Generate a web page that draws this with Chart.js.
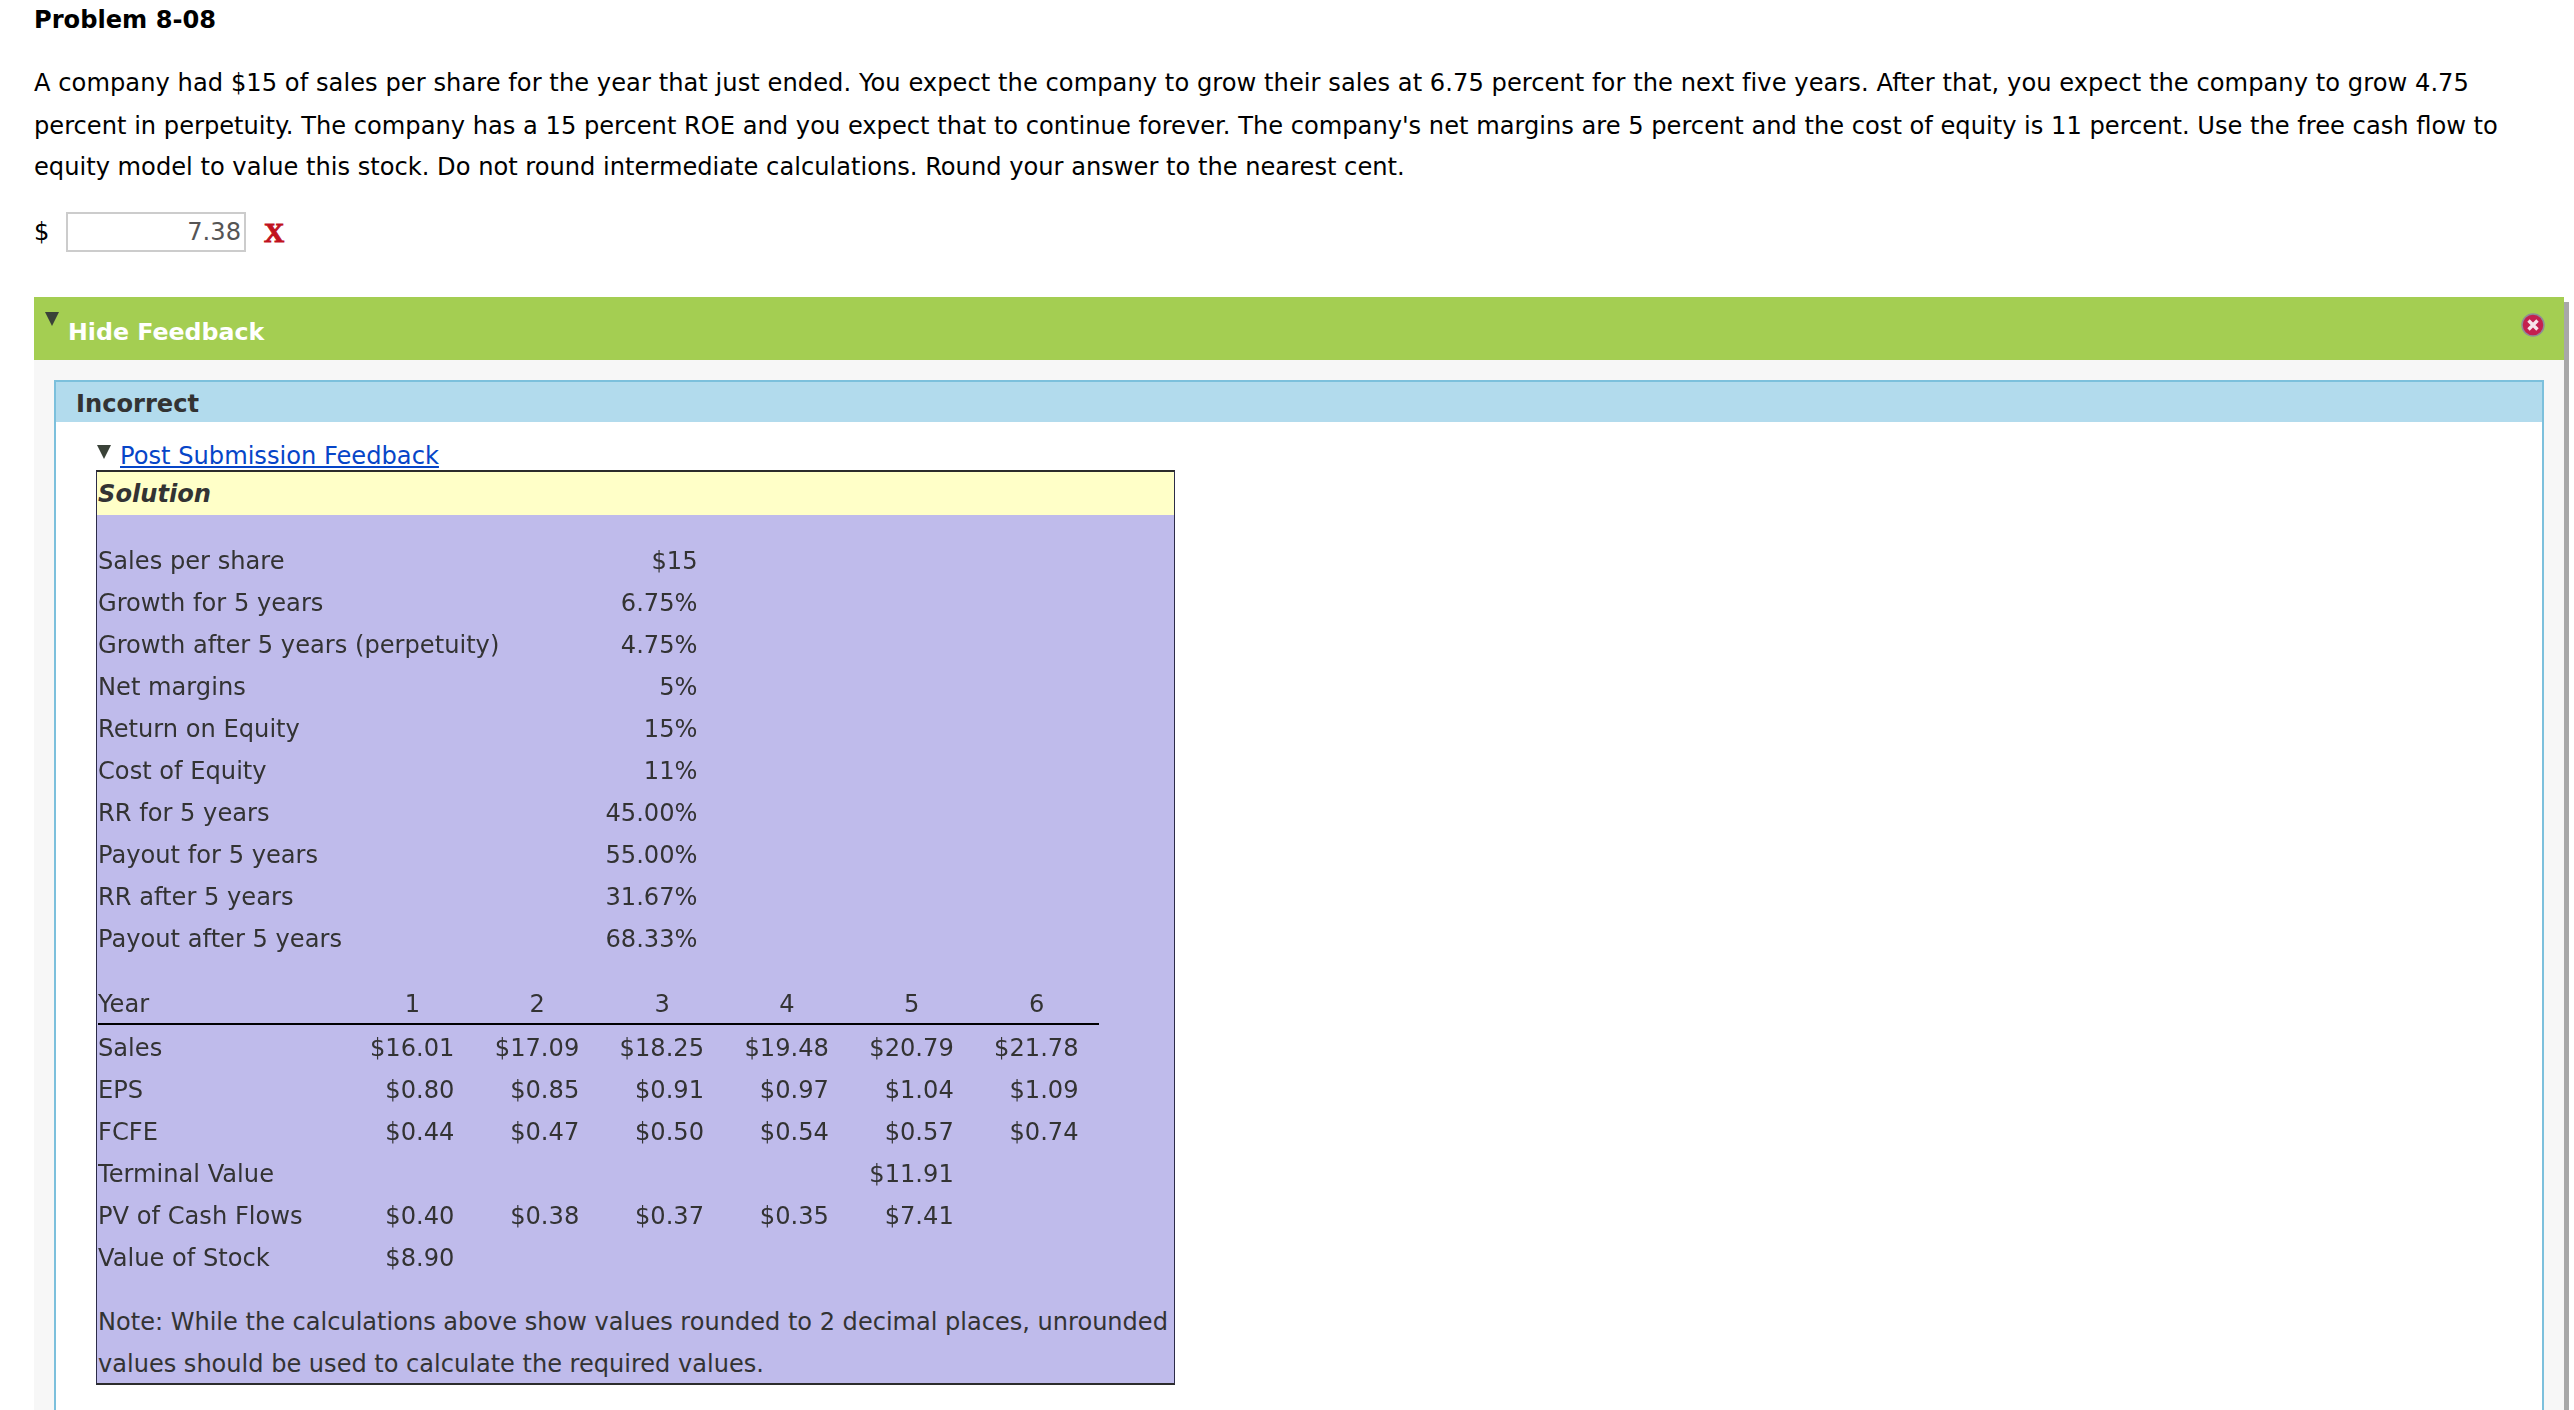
<!DOCTYPE html>
<html>
<head>
<meta charset="utf-8">
<title>Problem 8-08</title>
<script src="https://cdn.jsdelivr.net/npm/chart.js@4"></script>
<style>
  html, body { margin: 0; padding: 0; background: #fff; }
  body { width: 2574px; height: 1410px; overflow: hidden; position: relative; font-family: "DejaVu Sans", sans-serif; font-size: 24.15px; color: #000; }
  .abs { position: absolute; white-space: nowrap; line-height: 42px; }
  .box { position: absolute; box-sizing: border-box; }
  canvas { position: absolute; }
  b { font-weight: bold; }
</style>
</head>
<body>
<!-- page around the table -->
<div class="abs" style="left:34px;top:-1px"><b>Problem 8-08</b></div>
<div class="abs" style="left:34px;top:62px;letter-spacing:0.05px">A company had $15 of sales per share for the year that just ended. You expect the company to grow their sales at 6.75 percent for the next five years. After that, you expect the company to grow 4.75</div>
<div class="abs" style="left:34px;top:105px">percent in perpetuity. The company has a 15 percent ROE and you expect that to continue forever. The company's net margins are 5 percent and the cost of equity is 11 percent. Use the free cash flow to</div>
<div class="abs" style="left:34px;top:146px">equity model to value this stock. Do not round intermediate calculations. Round your answer to the nearest cent.</div>

<div class="abs" style="left:34px;top:211px">$</div>
<div class="box" style="left:66px;top:212px;width:180px;height:40px;border:2px solid #ccc"></div>
<div class="abs" style="right:2333px;top:211px;color:#555">7.38</div>
<div class="abs" style="left:264px;top:212px;color:#c1121f;font-weight:bold;font-family:'Liberation Serif',serif;font-size:28px;-webkit-text-stroke:1px #c1121f">X</div>

<div class="box" style="left:34px;top:360px;width:2530px;height:1050px;background:#f7f7f7"></div>
<div class="box" style="left:2564px;top:302px;width:5px;height:1108px;background:#a8a8a8"></div>
<div class="box" style="left:34px;top:297px;width:2530px;height:63px;background:#a4ce52"></div>
<svg class="box" style="left:43px;top:311px" width="18" height="15"><path d="M2 1H16L9 15Z" fill="#3a4238"/></svg>
<div class="abs" style="left:68px;top:311px;color:#fff;font-weight:bold;font-size:23.7px">Hide Feedback</div>
<svg class="box" style="left:2521px;top:313px" width="24" height="24"><circle cx="12" cy="12" r="11" fill="#c4204f" stroke="#8d8d96" stroke-width="1.5"/><path d="M7.5 7.5L16.5 16.5M16.5 7.5L7.5 16.5" stroke="#f6e4ea" stroke-width="3.4"/></svg>

<div class="box" style="left:54px;top:380px;width:2490px;height:1030px;background:#fff;border:2px solid #7cc0dc;border-bottom:0"></div>
<div class="box" style="left:56px;top:382px;width:2486px;height:40px;background:#b2dbed"></div>
<div class="abs" style="left:76px;top:383px;color:#333;font-weight:bold">Incorrect</div>

<svg class="box" style="left:96px;top:444px" width="16" height="15"><path d="M1 1H15L8 15Z" fill="#3a4238"/></svg>
<div class="abs" style="left:120px;top:435px;color:#0645c8;text-decoration:underline">Post Submission Feedback</div>

<!-- solution panel -->
<div class="box" style="left:96px;top:470px;width:1079px;height:915px;background:#bfbbeb;border:1px solid #2c2c48;border-top:2px solid #2c2c2c;border-bottom:2px solid #2c2c2c"></div>
<div class="box" style="left:97px;top:472px;width:1077px;height:43px;background:#ffffc8"></div>
<div class="abs" style="left:98px;top:473px;color:#333;font-weight:bold;font-style:italic">Solution</div>

<canvas id="paramChart" width="620" height="420" style="left:98px;top:542px"></canvas>
<canvas id="cashChart" width="1001" height="294" style="left:98px;top:987px"></canvas>

<div class="abs" style="left:98px;top:1301px;color:#333;font-size:24.05px">Note: While the calculations above show values rounded to 2 decimal places, unrounded</div>
<div class="abs" style="left:98px;top:1343px;color:#333;font-size:24.05px">values should be used to calculate the required values.</div>

<script>
// ================= DATA =================
const paramLabels = ["Sales per share", "Growth for 5 years", "Growth after 5 years (perpetuity)", "Net margins", "Return on Equity", "Cost of Equity", "RR for 5 years", "Payout for 5 years", "RR after 5 years", "Payout after 5 years"];
const paramValues = ["$15", "6.75%", "4.75%", "5%", "15%", "11%", "45.00%", "55.00%", "31.67%", "68.33%"];

const years = ["1", "2", "3", "4", "5", "6"];
const rowLabels = ["Sales", "EPS", "FCFE", "Terminal Value", "PV of Cash Flows", "Value of Stock"];
const sales = [16.01, 17.09, 18.25, 19.48, 20.79, 21.78];
const eps = [0.80, 0.85, 0.91, 0.97, 1.04, 1.09];
const fcfe = [0.44, 0.47, 0.50, 0.54, 0.57, 0.74];
const terminalValue = [null, null, null, null, 11.91, null];
const pvCashFlows = [0.40, 0.38, 0.37, 0.35, 7.41, null];
const stockValue = [8.90, null, null, null, null, null];

// ================= HELPERS =================
const TEXT = "#333";
const FONT = { family: "DejaVu Sans", size: 24.15 };
const CELL_PAD = 42; // right edge of a cell's text, from the column centre

// writes each point's text right aligned, at the point the scales placed
const cellText = {
  id: "cellText",
  afterDatasetsDraw(chart) {
    const ctx = chart.ctx;
    ctx.save();
    ctx.font = `${FONT.size}px "${FONT.family}"`;
    ctx.fillStyle = TEXT;
    ctx.textAlign = "right";
    ctx.textBaseline = "middle";
    chart.data.datasets.forEach((ds, i) => {
      chart.getDatasetMeta(i).data.forEach((pt, j) => {
        ctx.fillText(ds.data[j].text, pt.x + CELL_PAD, pt.y);
      });
    });
    ctx.restore();
  },
};

// the rule under the Year row runs under the row labels as well
const yearRow = {
  id: "yearRow",
  afterDraw(chart) {
    const ctx = chart.ctx;
    const top = chart.chartArea.top;
    ctx.save();
    ctx.strokeStyle = "#000";
    ctx.lineWidth = 2;
    ctx.beginPath();
    ctx.moveTo(0, top - 5);
    ctx.lineTo(chart.chartArea.right, top - 5);
    ctx.stroke();
    ctx.font = `${FONT.size}px "${FONT.family}"`;
    ctx.fillStyle = TEXT;
    ctx.textBaseline = "alphabetic";
    ctx.fillText("Year", 0, top - 17);
    ctx.restore();
  },
};

// scales ask for room for half a label at each end, not wanted with fixed rows
function noPadding(scale) {
  scale.paddingTop = 0;
  scale.paddingBottom = 0;
  scale.paddingLeft = 0;
  scale.paddingRight = 0;
}

function rowLabelAxis(labels, width) {
  return {
    type: "category",
    labels,
    offset: true,
    grid: { display: false },
    border: { display: false },
    ticks: { color: TEXT, font: FONT, padding: 0, crossAlign: "far", autoSkip: false },
    afterFit(scale) {
      scale.width = width;
      noPadding(scale);
    },
  };
}

const baseOptions = {
  responsive: false,
  devicePixelRatio: 1,
  animation: false,
  layout: { padding: 0 },
  plugins: { legend: { display: false }, tooltip: { enabled: false } },
  elements: { point: { radius: 0 } },
};

// ================= PARAMETER TABLE =================
new Chart(document.getElementById("paramChart"), {
  type: "scatter",
  data: {
    datasets: [{
      data: paramValues.map((v, i) => ({ x: "Value", y: paramLabels[i], text: v })),
    }],
  },
  options: {
    ...baseOptions,
    scales: {
      x: { type: "category", labels: ["Value"], offset: true, display: false },
      y: rowLabelAxis(paramLabels, 495),
    },
  },
  plugins: [cellText],
});

// ================= YEAR TABLE =================
const cashRows = [sales, eps, fcfe, terminalValue, pvCashFlows, stockValue];

new Chart(document.getElementById("cashChart"), {
  type: "scatter",
  data: {
    datasets: cashRows.map((row, r) => ({
      data: row
        .map((v, i) => ({ x: years[i], y: rowLabels[r], v }))
        .filter((c) => c.v !== null)
        .map((c) => ({ ...c, text: `$${c.v.toFixed(2)}` })),
    })),
  },
  options: {
    ...baseOptions,
    scales: {
      x: {
        type: "category",
        labels: years,
        offset: true,
        position: "top",
        grid: { display: false, drawTicks: false },
        border: { display: false },
        ticks: { color: TEXT, font: FONT, padding: 9, maxRotation: 0 },
        afterFit(scale) {
          scale.height = 42;
          noPadding(scale);
        },
      },
      y: rowLabelAxis(rowLabels, 252),
    },
  },
  plugins: [cellText, yearRow],
});
</script>
</body>
</html>
